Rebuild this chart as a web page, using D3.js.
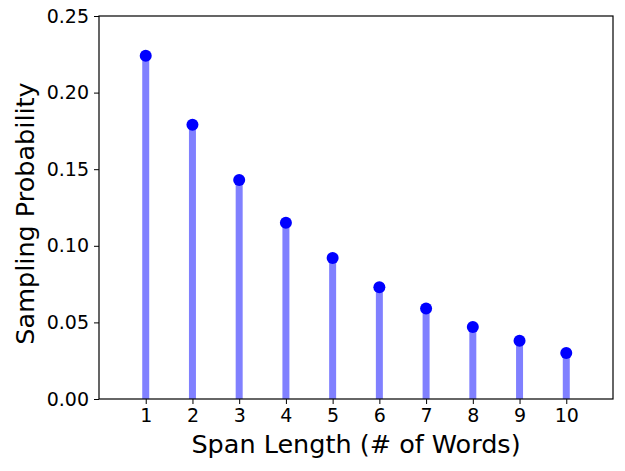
<!DOCTYPE html>
<html><head><meta charset="utf-8">
<script src="https://cdn.jsdelivr.net/npm/d3@7"></script>
<style>body{margin:0;background:#fff}</style>
</head><body>
<script>
const spanLengths = [1,2,3,4,5,6,7,8,9,10];
const probabilities = [0.224,0.179,0.143,0.115,0.092,0.073,0.059,0.047,0.038,0.030];
const yTicks = [0,0.05,0.10,0.15,0.20,0.25];
const xTicks = [1,2,3,4,5,6,7,8,9,10];

const W=625,H=471;
const m={l:99,r:12,t:16,b:72};
const svg=d3.select("body").append("svg").attr("width",W).attr("height",H);
const x=d3.scaleLinear().domain([0,11]).range([m.l,W-m.r]);
const y=d3.scaleLinear().domain([0,0.25]).range([H-m.b,m.t]);
const font="DejaVu Sans";

svg.selectAll(".stem").data(probabilities).enter().append("line")
 .attr("x1",(d,i)=>x(spanLengths[i])).attr("x2",(d,i)=>x(spanLengths[i]))
 .attr("y1",y(0)).attr("y2",d=>y(d))
 .attr("stroke","#8080ff").attr("stroke-width",7);
svg.selectAll(".dot").data(probabilities).enter().append("circle")
 .attr("cx",(d,i)=>x(spanLengths[i])).attr("cy",d=>y(d)).attr("r",6).attr("fill","#0000ff");

svg.append("rect").attr("x",m.l).attr("y",m.t).attr("width",W-m.r-m.l).attr("height",H-m.b-m.t)
 .attr("fill","none").attr("stroke","#000").attr("stroke-width",1.2);

const xa=svg.append("g").attr("transform",`translate(0,${H-m.b})`)
 .call(d3.axisBottom(x).tickValues(xTicks).tickSize(5).tickPadding(5).tickFormat(d3.format("d")));
const ya=svg.append("g").attr("transform",`translate(${m.l},0)`)
 .call(d3.axisLeft(y).tickValues(yTicks).tickSize(5).tickPadding(5).tickFormat(d3.format(".2f")));
[xa,ya].forEach(a=>{a.select(".domain").remove();
 a.selectAll("text").attr("font-family",font).attr("font-size",19).attr("fill","#000");
 a.selectAll("line").attr("stroke","#000").attr("stroke-width",1);});

svg.append("text").attr("x",(m.l+W-m.r)/2).attr("y",453).attr("text-anchor","middle")
 .attr("font-family",font).attr("font-size",25.5).text("Span Length (# of Words)");
svg.append("text").attr("transform",`translate(34,${(m.t+H-m.b)/2+6}) rotate(-90)`).attr("text-anchor","middle")
 .attr("font-family",font).attr("font-size",25.5).text("Sampling Probability");
</script>
</body></html>
